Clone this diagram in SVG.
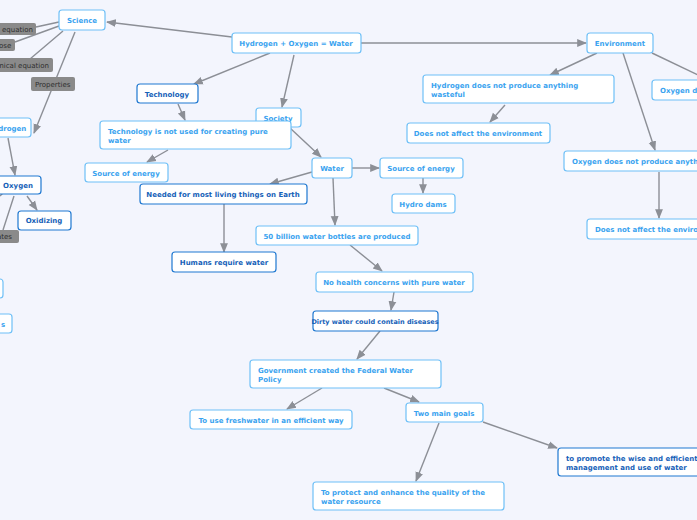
<svg xmlns="http://www.w3.org/2000/svg" width="697" height="520" viewBox="0 0 697 520">
<style>
text{font-family:"DejaVu Sans",Verdana,sans-serif;font-weight:bold;font-size:7px}
.n rect{fill:#fff;stroke:#6fc0f7;stroke-width:1.2}
.n text{fill:#3aa3ef}
.d rect{fill:#fff;stroke:#1f78d1;stroke-width:1.2}
.d text{fill:#1661b8}
.g rect{fill:#8a8a8a;stroke:none}
.g text{fill:#2f2f2f;font-weight:normal}
.e path{stroke:#8c8f96;stroke-width:1.4;fill:none}
.a{marker-end:url(#ar)}
</style>
<defs><marker id="ar" viewBox="0 0 10 10" refX="9" refY="5" markerWidth="7" markerHeight="7" orient="auto"><path d="M0,1L10,5L0,9z" fill="#8c8f96"/></marker></defs>
<rect width="697" height="520" fill="#f3f5fd"/>
<g class="e">
<path class="a" d="M232,37L107,22"/>
<path class="a" d="M361,43L586,43"/>
<path class="a" d="M270,53L194,84"/>
<path class="a" d="M294,55L282,107"/>
<path d="M59,22L36,27M59,26L15,42M63,31L30,59"/>
<path class="a" d="M75,32L34,133"/>
<path class="a" d="M8,138L15,175"/>
<path class="a" d="M27,196L37,210"/>
<path d="M14,196L3,230M4,192L0,196"/>
<path class="a" d="M178,104L185,120"/>
<path class="a" d="M168,150L147,162"/>
<path class="a" d="M290,128L321,157"/>
<path class="a" d="M352,168L379,168"/>
<path class="a" d="M312,172L270,184"/>
<path class="a" d="M224,204L224,252"/>
<path class="a" d="M333,178L335,225"/>
<path class="a" d="M423,178L423,193"/>
<path class="a" d="M350,245L382,271"/>
<path class="a" d="M394,292L391,310"/>
<path class="a" d="M380,331L357,359"/>
<path class="a" d="M322,388L287,409"/>
<path class="a" d="M384,388L419,402"/>
<path class="a" d="M483,422L557,448"/>
<path class="a" d="M439,423L416,481"/>
<path class="a" d="M597,53L550,75"/>
<path d="M652,53L700,76"/>
<path class="a" d="M623,53L655,150"/>
<path class="a" d="M505,105L490,122"/>
<path class="a" d="M659,172L659,218"/>
</g>
<g id="g1" class="g"><rect x="-6" y="23" width="42" height="12" rx="2"/><text x="2" y="32">equation</text></g>
<g id="g2" class="g"><rect x="-6" y="39" width="21" height="12" rx="2"/><text x="-1" y="48">ose</text></g>
<g id="g3" class="g"><rect x="-6" y="58" width="59" height="14" rx="2"/><text x="-3" y="68">mical equation</text></g>
<g id="g4" class="g"><rect x="31" y="77" width="44" height="14" rx="2"/><text x="35" y="87">Properties</text></g>
<g id="g5" class="g"><rect x="-6" y="230" width="25" height="13" rx="2"/><text x="-3" y="239">ates</text></g>
<g id="science" class="n"><rect x="59" y="10" width="46" height="20" rx="3"/><text x="82" y="23" text-anchor="middle">Science</text></g>
<g id="hydrogen" class="n"><rect x="-20" y="118" width="51" height="19" rx="3"/><text x="7" y="131" text-anchor="middle">Hydrogen</text></g>
<g id="oxygen" class="d"><rect x="-6" y="176" width="47" height="18" rx="3"/><text x="18" y="188" text-anchor="middle">Oxygen</text></g>
<g id="oxidizing" class="d"><rect x="18" y="211" width="53" height="19" rx="3"/><text x="44" y="223" text-anchor="middle">Oxidizing</text></g>
<g id="l1" class="n"><rect x="-10" y="279" width="13" height="19" rx="3"/></g>
<g id="l2" class="n"><rect x="-10" y="314" width="22" height="19" rx="3"/><text x="3" y="327" text-anchor="middle">s</text></g>
<g id="hw" class="n"><rect x="232" y="33" width="129" height="20" rx="3"/><text x="296" y="46" text-anchor="middle">Hydrogen + Oxygen = Water</text></g>
<g id="env" class="n"><rect x="587" y="33" width="66" height="20" rx="3"/><text x="620" y="46" text-anchor="middle">Environment</text></g>
<g id="tech" class="d"><rect x="137" y="84" width="61" height="19" rx="3"/><text x="167" y="97" text-anchor="middle">Technology</text></g>
<g id="hdn" class="n"><rect x="423" y="75" width="191" height="28" rx="3"/><text x="431" y="88">Hydrogen does not produce anything</text><text x="431" y="97">wasteful</text></g>
<g id="oxd" class="n"><rect x="652" y="80" width="60" height="20" rx="3"/><text x="660" y="93">Oxygen does not</text></g>
<g id="society" class="n"><rect x="256" y="108" width="45" height="19" rx="3"/><text x="278" y="121" text-anchor="middle">Society</text></g>
<g id="tnu" class="n"><rect x="100" y="121" width="191" height="28" rx="3"/><text x="108" y="134">Technology is not used for creating pure</text><text x="108" y="143">water</text></g>
<g id="dna1" class="n"><rect x="407" y="123" width="143" height="20" rx="3"/><text x="478" y="136" text-anchor="middle">Does not affect the environment</text></g>
<g id="soe1" class="n"><rect x="85" y="163" width="83" height="19" rx="3"/><text x="126" y="176" text-anchor="middle">Source of energy</text></g>
<g id="odn" class="n"><rect x="564" y="151" width="150" height="20" rx="3"/><text x="572" y="164">Oxygen does not produce anything</text></g>
<g id="water" class="n"><rect x="312" y="158" width="40" height="20" rx="3"/><text x="332" y="171" text-anchor="middle">Water</text></g>
<g id="soe2" class="n"><rect x="380" y="158" width="83" height="20" rx="3"/><text x="421" y="171" text-anchor="middle">Source of energy</text></g>
<g id="needed" class="d"><rect x="140" y="184" width="167" height="20" rx="3"/><text x="223" y="197" text-anchor="middle">Needed for most living things on Earth</text></g>
<g id="hydro" class="n"><rect x="392" y="194" width="63" height="19" rx="3"/><text x="423" y="207" text-anchor="middle">Hydro dams</text></g>
<g id="dna2" class="n"><rect x="587" y="219" width="140" height="20" rx="3"/><text x="595" y="232">Does not affect the environment</text></g>
<g id="bottles" class="n"><rect x="256" y="226" width="162" height="19" rx="3"/><text x="337" y="239" text-anchor="middle">50 billion water bottles are produced</text></g>
<g id="humans" class="d"><rect x="172" y="252" width="104" height="20" rx="3"/><text x="224" y="265" text-anchor="middle">Humans require water</text></g>
<g id="health" class="n"><rect x="316" y="272" width="157" height="20" rx="3"/><text x="394" y="285" text-anchor="middle">No health concerns with pure water</text></g>
<g id="dirty" class="d"><rect x="313" y="311" width="125" height="20" rx="3"/><text x="375" y="324" text-anchor="middle" style="font-size:6.5px">Dirty water could contain diseases</text></g>
<g id="gov" class="n"><rect x="250" y="360" width="191" height="28" rx="3"/><text x="258" y="373">Government created the Federal Water</text><text x="258" y="382">Policy</text></g>
<g id="fresh" class="n"><rect x="190" y="410" width="162" height="19" rx="3"/><text x="271" y="423" text-anchor="middle">To use freshwater in an efficient way</text></g>
<g id="goals" class="n"><rect x="406" y="403" width="77" height="19" rx="3"/><text x="444" y="416" text-anchor="middle">Two main goals</text></g>
<g id="promote" class="d"><rect x="558" y="448" width="150" height="28" rx="3"/><text x="566" y="461">to promote the wise and efficient</text><text x="566" y="470">management and use of water</text></g>
<g id="protect" class="n"><rect x="313" y="482" width="191" height="28" rx="3"/><text x="321" y="495">To protect and enhance the quality of the</text><text x="321" y="504">water resource</text></g>
</svg>
